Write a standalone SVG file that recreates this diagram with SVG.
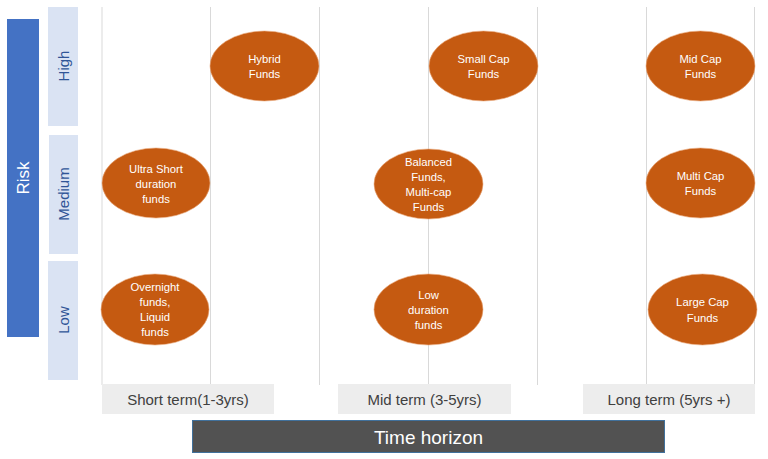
<svg xmlns="http://www.w3.org/2000/svg" width="768" height="459" viewBox="0 0 768 459">
<style>
.grid{stroke:#D9D9D9;stroke-width:1}
.fund{fill:#C55A11;stroke:#E9A77A;stroke-width:0.6}
.ft{font-family:"Liberation Sans",Arial,sans-serif;font-size:11.3px;fill:#FFFFFF;text-anchor:middle}
.row{fill:#DAE3F3}
.rt{font-family:"Liberation Sans",Arial,sans-serif;font-size:15px;fill:#2F5597;text-anchor:middle}
.lab{fill:#EDEDED}
.lt{font-family:"Liberation Sans",Arial,sans-serif;font-size:15px;fill:#404040;text-anchor:middle}
</style>
<rect width="768" height="459" fill="#FFFFFF"/>
<g id="grid">
<line class="grid" x1="102" y1="7" x2="102" y2="385"/>
<line class="grid" x1="210.5" y1="7" x2="210.5" y2="385"/>
<line class="grid" x1="319.5" y1="7" x2="319.5" y2="385"/>
<line class="grid" x1="428.5" y1="7" x2="428.5" y2="385"/>
<line class="grid" x1="537.5" y1="7" x2="537.5" y2="385"/>
<line class="grid" x1="646.5" y1="7" x2="646.5" y2="385"/>
<line class="grid" x1="754.5" y1="7" x2="754.5" y2="385"/>
</g>
<g id="risk-axis">
<rect x="7" y="19" width="32" height="318" fill="#4472C4"/>
<text transform="translate(29,178) rotate(-90)" font-family="Liberation Sans,Arial,sans-serif" font-size="17" fill="#FFFFFF" text-anchor="middle">Risk</text>
</g>
<g id="row-high">
<rect class="row" x="48" y="7" width="30" height="119"/>
<text class="rt" transform="translate(68.5,66) rotate(-90)">High</text>
</g>
<g id="row-medium">
<rect class="row" x="49" y="135" width="29" height="119"/>
<text class="rt" transform="translate(69,194) rotate(-90)">Medium</text>
</g>
<g id="row-low">
<rect class="row" x="48" y="261" width="30" height="119"/>
<text class="rt" transform="translate(68.5,320) rotate(-90)">Low</text>
</g>
<g id="hybrid">
<ellipse class="fund" cx="264.5" cy="66" rx="54.5" ry="35"/>
<text class="ft" x="264.5" y="63">Hybrid</text>
<text class="ft" x="264.5" y="78">Funds</text>
</g>
<g id="small-cap">
<ellipse class="fund" cx="483.5" cy="66" rx="54.5" ry="35"/>
<text class="ft" x="483.5" y="63">Small Cap</text>
<text class="ft" x="483.5" y="78">Funds</text>
</g>
<g id="mid-cap">
<ellipse class="fund" cx="700.5" cy="66" rx="54.5" ry="35"/>
<text class="ft" x="700.5" y="63">Mid Cap</text>
<text class="ft" x="700.5" y="78">Funds</text>
</g>
<g id="ultra-short">
<ellipse class="fund" cx="156" cy="183" rx="54" ry="35"/>
<text class="ft" x="156" y="173">Ultra Short</text>
<text class="ft" x="156" y="188">duration</text>
<text class="ft" x="156" y="203">funds</text>
</g>
<g id="balanced">
<ellipse class="fund" cx="428.5" cy="184" rx="54.5" ry="35"/>
<text class="ft" x="428.5" y="166">Balanced</text>
<text class="ft" x="428.5" y="181">Funds,</text>
<text class="ft" x="428.5" y="196">Multi-cap</text>
<text class="ft" x="428.5" y="211">Funds</text>
</g>
<g id="multi-cap">
<ellipse class="fund" cx="700.5" cy="183" rx="54.5" ry="35"/>
<text class="ft" x="700.5" y="180">Multi Cap</text>
<text class="ft" x="700.5" y="195">Funds</text>
</g>
<g id="overnight">
<ellipse class="fund" cx="155" cy="309.5" rx="54" ry="35.5"/>
<text class="ft" x="155" y="291">Overnight</text>
<text class="ft" x="155" y="306">funds,</text>
<text class="ft" x="155" y="321">Liquid</text>
<text class="ft" x="155" y="336">funds</text>
</g>
<g id="low-duration">
<ellipse class="fund" cx="428.5" cy="309.5" rx="54.5" ry="35.5"/>
<text class="ft" x="428.5" y="299">Low</text>
<text class="ft" x="428.5" y="314">duration</text>
<text class="ft" x="428.5" y="329">funds</text>
</g>
<g id="large-cap">
<ellipse class="fund" cx="702.5" cy="309.5" rx="54.5" ry="35.5"/>
<text class="ft" x="702.5" y="306">Large Cap</text>
<text class="ft" x="702.5" y="322">Funds</text>
</g>
<g id="short-term">
<rect class="lab" x="102" y="384" width="172" height="30"/>
<text class="lt" x="188" y="405">Short term(1-3yrs)</text>
</g>
<g id="mid-term">
<rect class="lab" x="338" y="384" width="173" height="30"/>
<text class="lt" x="424.5" y="405">Mid term (3-5yrs)</text>
</g>
<g id="long-term">
<rect class="lab" x="583" y="384" width="172" height="30"/>
<text class="lt" x="669" y="405">Long term (5yrs +)</text>
</g>
<g id="time-horizon">
<rect x="192.5" y="420.5" width="472" height="32" fill="#525252" stroke="#41719C" stroke-width="1"/>
<text x="428.5" y="443.5" font-family="Liberation Sans,Arial,sans-serif" font-size="19" fill="#FFFFFF" text-anchor="middle">Time horizon</text>
</g>
</svg>
